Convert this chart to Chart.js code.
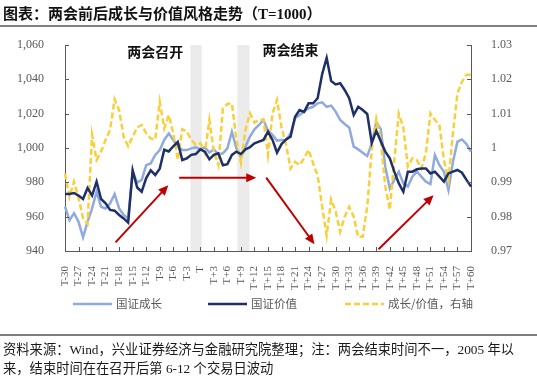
<!DOCTYPE html>
<html>
<head>
<meta charset="utf-8">
<script src="https://cdn.jsdelivr.net/npm/chart.js@4.4.0/dist/chart.umd.min.js"></script>
<style>
body { margin: 0; background: #fff; }
#wrap { position: relative; width: 537px; height: 378px; overflow: hidden; font-family: "Liberation Serif", "Noto Sans CJK SC", serif; }
#title { position: absolute; left: 3px; top: 2px; font-size: 15px; font-weight: bold; color: #111; }
.rule { position: absolute; left: 0; width: 537px; height: 2px; background: #7f7f7f; }
#note { position: absolute; left: 3px; top: 340px; font-size: 13.3px; line-height: 19px; color: #1a1a1a; width: 534px; }
canvas { position: absolute; left: 0; top: 0; }
</style>
</head>
<body>
<div id="wrap">
  <canvas id="chart" width="537" height="378"></canvas>
  <div id="title">图表：两会前后成长与价值风格走势（T=1000）</div>
  <div class="rule" style="top:25px"></div>
  <div class="rule" style="top:334px"></div>
  <div id="note">资料来源：Wind，兴业证券经济与金融研究院整理；注：两会结束时间不一，2005 年以<br>来，结束时间在在召开后第 6-12 个交易日波动</div>
</div>
<script>
// categories T-30 ... T+60, labels shown every 3 days
const days = [];
for (let d = -30; d <= 60; d++) days.push(d === 0 ? 'T' : (d < 0 ? 'T' + d : 'T+' + d));

// 国证成长 (left axis)
const growth = [
  965.8, 958, 962, 957, 948, 957, 964.8, 974.5, 965.8, 964.8,
  967.8, 973.2, 964.8, 961, 959, 986.2, 979.8, 981.4, 990, 991,
  996, 998.8, 1004.7, 1008.5, 1004.7, 1001, 998.8, 998.8, 999.8, 1000.4,
  999.2, 1000.4, 997.3, 999.2, 996.3, 996.9, 999.8, 1009.5, 999.8, 994.6,
  1000.8, 1006.6, 1010.9, 1013.4, 1016.3, 1010.1, 1007.6, 1004.3, 1004.7, 1004.7,
  1008.5, 1017.3, 1019.2, 1021.2, 1023.1, 1024, 1026, 1026.6, 1024, 1024.7,
  1021.2, 1016.3, 1014, 1012, 1000.8, 999.2, 997.3, 995.3, 1002.7, 1015,
  1011, 989, 976.5, 981.4, 986.2, 979.4, 977.5, 983.3, 986.2, 983.3,
  980.4, 979, 995.9, 990, 986.2, 975.5, 992, 1003.7, 1005, 1002.3,
  997.9
];

// 国证价值 (left axis)
const value = [
  973.2, 973.2, 973.8, 972.3, 970.3, 976.7, 972.3, 980.4, 970.3, 967.8,
  963.9, 963.5, 961, 959, 956.5, 987, 977, 974.5, 982.5, 987,
  984.3, 988, 999, 998, 1001, 1003.5, 993, 994, 996, 996.5,
  999.2, 997.9, 993.4, 996, 996.9, 990, 990.6, 996, 997.9, 996.5,
  999.2, 1000.4, 1002.7, 1003.7, 1004.7, 1009.5, 1004.7, 997.3, 1002.3, 1005,
  1006.6, 1018.2, 1022.1, 1021, 1026, 1026, 1029, 1043, 1052.5, 1039,
  1037, 1037.7, 1033.8, 1029, 1019.2, 1024, 1022.1, 1019.8, 1003, 1010,
  1004, 997.9, 994, 986.2, 979.4, 974.5, 986.2, 986.2, 987.6, 988.1,
  988.1, 985.2, 986.2, 983.3, 980.4, 985.2, 986.2, 987.2, 985.6, 981.4,
  977.5
];

// 成长/价值 (right axis)
const ratio = [
  0.9926, 0.9858, 0.9902, 0.9854, 0.9795, 0.978, 1.0038, 0.9965, 0.999, 1.0024,
  1.0053, 1.0142, 1.011, 1.0033, 1.0005, 1.0033, 1.006, 1.0067, 1.0043, 1.0028,
  1.0024, 1.0135, 1.0057, 1.0096, 1.0043, 0.9965, 1.0055, 1.0048, 1.0024, 1.0009,
  1.0014, 0.9985, 1.0082, 0.999, 0.995, 1.0116, 1.0128, 1.013, 1.0024, 0.9957,
  1.0053, 1.0101, 1.0074, 1.0082, 1.0082, 0.998, 1.0101, 1.014, 1.006, 1.001,
  0.994, 0.996, 0.995, 0.997, 0.9995, 0.9955, 0.992, 0.983, 0.9745, 0.985,
  0.9815, 0.9756, 0.98, 0.9829, 0.98, 0.974, 0.9742, 0.9829, 0.9994, 1.0085,
  1.0024, 0.9888, 0.982, 0.9965, 1.01, 1.006, 0.9946, 0.997, 0.9965, 0.994,
  0.9985, 1.0101, 1.0082, 1.0067, 0.9965, 0.9907, 1.0043, 1.0159, 1.0193, 1.0213,
  1.0213
];

// shaded windows (category index), arrows and notes in data units
const bands = [[27.8, 30.3], [38.2, 40.9]];
const arrows = [[11.2, 945, 22.9, 978.3], [25.3, 982.7, 42.4, 982.7], [44.6, 982.7, 55.3, 944], [69.5, 941, 81.7, 972.5]];
const notes = [['两会召开', 20, 1056], ['两会结束', 50, 1057]];

const axisColor = '#595959';
const serif = '"Liberation Serif", "Noto Sans CJK SC", serif';

const bandPlugin = {
    id: 'bands',
    beforeDatasetsDraw(chart) {
        const { ctx, chartArea, scales } = chart;
        ctx.save();
        ctx.fillStyle = '#ebebeb';
        bands.forEach(b => {
            const x1 = scales.x.getPixelForValue(b[0]);
            const x2 = scales.x.getPixelForValue(b[1]);
            ctx.fillRect(x1, chartArea.top, x2 - x1, chartArea.bottom - chartArea.top);
        });
        ctx.restore();
    }
};

function drawArrow(ctx, x1, y1, x2, y2) {
    const a = Math.atan2(y2 - y1, x2 - x1), h = 10, w = 4.5;
    ctx.beginPath();
    ctx.moveTo(x1, y1);
    ctx.lineTo(x2 - h * 0.7 * Math.cos(a), y2 - h * 0.7 * Math.sin(a));
    ctx.stroke();
    ctx.beginPath();
    ctx.moveTo(x2, y2);
    ctx.lineTo(x2 - h * Math.cos(a) + w * Math.sin(a), y2 - h * Math.sin(a) - w * Math.cos(a));
    ctx.lineTo(x2 - h * Math.cos(a) - w * Math.sin(a), y2 - h * Math.sin(a) + w * Math.cos(a));
    ctx.closePath();
    ctx.fill();
}

const notePlugin = {
    id: 'notes',
    afterDatasetsDraw(chart) {
        const { ctx, scales } = chart;
        ctx.save();
        ctx.strokeStyle = '#c00000';
        ctx.fillStyle = '#c00000';
        ctx.lineWidth = 2;
        arrows.forEach(a => {
            drawArrow(ctx, scales.x.getPixelForValue(a[0]), scales.y.getPixelForValue(a[1]),
                scales.x.getPixelForValue(a[2]), scales.y.getPixelForValue(a[3]));
        });
        ctx.fillStyle = '#111';
        ctx.font = 'bold 14px "Noto Sans CJK SC"';
        ctx.textAlign = 'center';
        ctx.textBaseline = 'middle';
        notes.forEach(n => ctx.fillText(n[0], scales.x.getPixelForValue(n[1]), scales.y.getPixelForValue(n[2])));
        ctx.restore();
    }
};

// small tick marks pointing into the plot
const tickPlugin = {
    id: 'innerTicks',
    afterDraw(chart) {
        const { ctx, chartArea, scales } = chart;
        ctx.save();
        ctx.strokeStyle = axisColor;
        ctx.lineWidth = 1;
        ctx.beginPath();
        scales.y.ticks.forEach(t => {
            const y = Math.round(scales.y.getPixelForValue(t.value)) + 0.5;
            ctx.moveTo(chartArea.left, y); ctx.lineTo(chartArea.left + 4, y);
        });
        scales.y2.ticks.forEach(t => {
            const y = Math.round(scales.y2.getPixelForValue(t.value)) + 0.5;
            ctx.moveTo(chartArea.right, y); ctx.lineTo(chartArea.right - 4, y);
        });
        days.forEach((d, i) => {
            if (i % 3 !== 0) return;
            const x = Math.round(scales.x.getPixelForValue(i)) + 0.5;
            ctx.moveTo(x, chartArea.bottom); ctx.lineTo(x, chartArea.bottom - 4);
        });
        ctx.stroke();
        ctx.restore();
    }
};

const legendItems = [
    { text: '国证成长', x: 73, color: '#8faadc', dash: [] },
    { text: '国证价值', x: 208, color: '#1f3068', dash: [] },
    { text: '成长/价值，右轴', x: 345, color: '#f9d03c', dash: [6, 3] }
];

const legendPlugin = {
    id: 'lineLegend',
    afterDraw(chart) {
        const ctx = chart.ctx, y = 304;
        ctx.save();
        ctx.font = '11.5px "Noto Sans CJK SC"';
        ctx.textBaseline = 'middle';
        legendItems.forEach(it => {
            ctx.strokeStyle = it.color;
            ctx.lineWidth = 2.5;
            ctx.setLineDash(it.dash);
            ctx.beginPath();
            ctx.moveTo(it.x, y); ctx.lineTo(it.x + 39, y);
            ctx.stroke();
            ctx.setLineDash([]);
            ctx.fillStyle = '#595959';
            ctx.fillText(it.text, it.x + 43, y);
        });
        ctx.restore();
    }
};

const chart = new Chart(document.getElementById('chart').getContext('2d'), {
    type: 'line',
    data: {
        labels: days,
        datasets: [
            { label: '国证价值', data: value, yAxisID: 'y', borderColor: '#1f3068', borderWidth: 2.5, order: 1 },
            { label: '国证成长', data: growth, yAxisID: 'y', borderColor: '#8faadc', borderWidth: 2.5, order: 3 },
            { label: '成长/价值，右轴', data: ratio, yAxisID: 'y2', borderColor: '#f9d03c', borderWidth: 2.5, borderDash: [6, 3], order: 2 }
        ]
    },
    options: {
        responsive: false,
        animation: false,
        layout: { padding: { top: 45, bottom: 87, left: 0, right: 0 } },
        elements: { point: { radius: 0 }, line: { tension: 0, fill: false } },
        plugins: { legend: { display: false }, tooltip: { enabled: false } },
        scales: {
            x: {
                grid: { display: false },
                border: { display: true, color: axisColor },
                afterFit: s => { s.height = 40; },
                ticks: {
                    autoSkip: false, minRotation: 90, maxRotation: 90, padding: 7,
                    color: axisColor, font: { family: serif, size: 11 },
                    callback: (v, i) => (i % 3 === 0 ? days[i] : null)
                }
            },
            y: {
                position: 'left', min: 940, max: 1060,
                grid: { display: false },
                border: { display: true, color: axisColor },
                afterFit: s => { s.width = 65; },
                ticks: {
                    stepSize: 20, padding: 13, color: axisColor, font: { family: serif, size: 12 },
                    callback: v => v.toLocaleString('en-US')
                }
            },
            y2: {
                position: 'right', min: 0.97, max: 1.03,
                grid: { display: false },
                border: { display: true, color: axisColor },
                afterFit: s => { s.width = 66; },
                ticks: {
                    stepSize: 0.01, padding: 12, color: axisColor, font: { family: serif, size: 12 },
                    callback: v => String(Number(v.toFixed(2)))
                }
            }
        }
    },
    plugins: [bandPlugin, notePlugin, tickPlugin, legendPlugin]
});
</script>
</body>
</html>
